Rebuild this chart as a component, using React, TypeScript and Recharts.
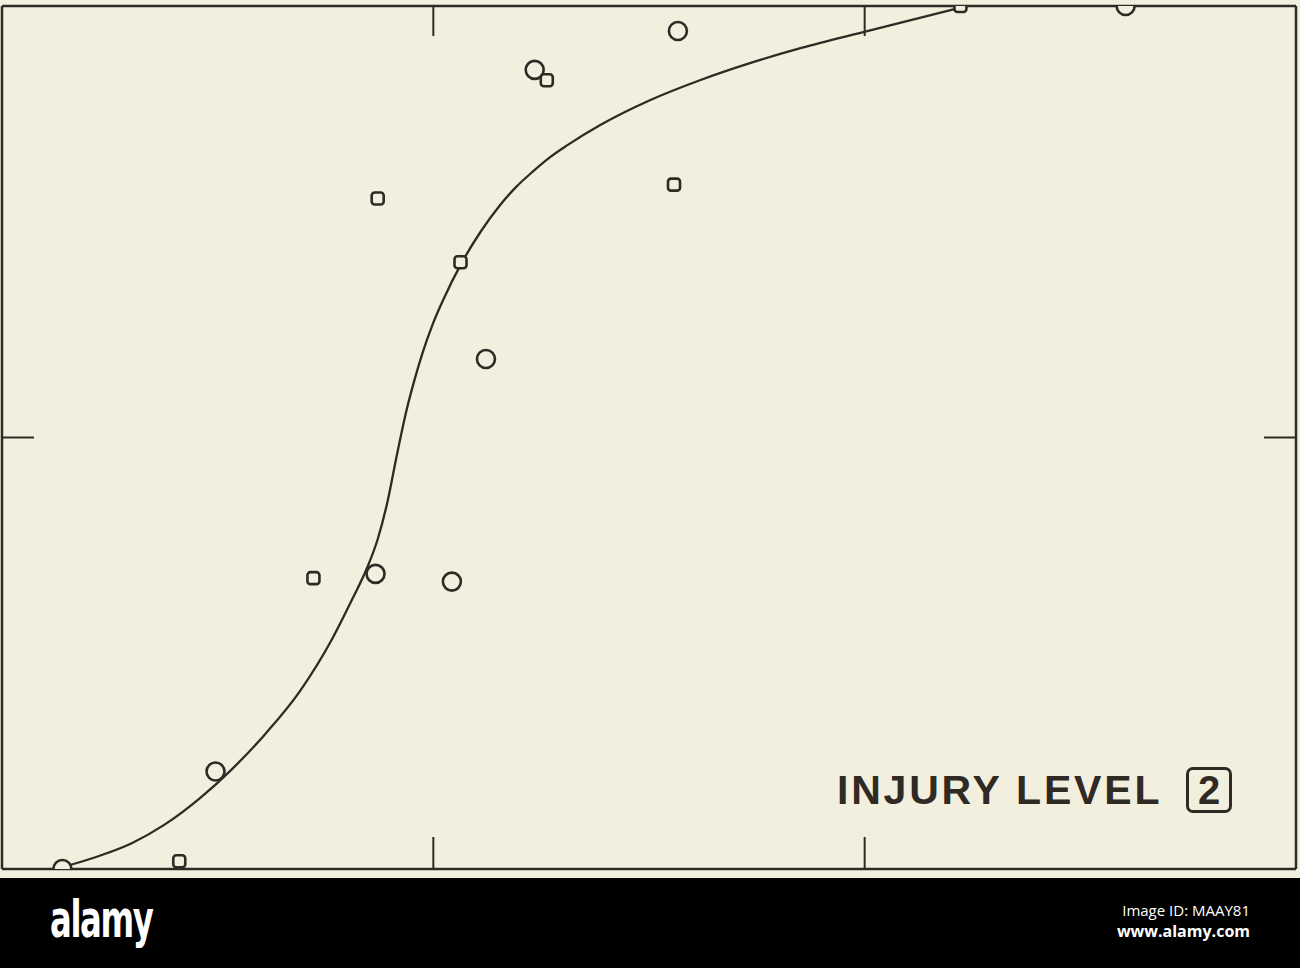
import React from 'react';
import { ComposedChart, Line, Scatter, XAxis, YAxis } from 'recharts';

// Observed points: circles
const circlePoints = [
  { x: 0.14, y: 0 },
  { x: 0.495, y: 11.3 },
  { x: 0.866, y: 34.2 },
  { x: 1.043, y: 33.3 },
  { x: 1.122, y: 59.1 },
  { x: 1.235, y: 92.6 },
  { x: 1.567, y: 97.1 },
  { x: 2.605, y: 100 },
];

// Observed points: squares
const squarePoints = [
  { x: 0.411, y: 0.9 },
  { x: 0.722, y: 33.7 },
  { x: 0.871, y: 77.7 },
  { x: 1.063, y: 70.3 },
  { x: 1.263, y: 91.4 },
  { x: 1.558, y: 79.3 },
  { x: 2.222, y: 100 },
];

// Fitted curve
const curvePoints = [
  { x: 0.139, y: 0.2 },
  { x: 0.225, y: 1.51 },
  { x: 0.302, y: 3.02 },
  { x: 0.376, y: 5.11 },
  { x: 0.457, y: 8.13 },
  { x: 0.534, y: 11.61 },
  { x: 0.611, y: 15.68 },
  { x: 0.69, y: 20.56 },
  { x: 0.766, y: 26.71 },
  { x: 0.813, y: 31.36 },
  { x: 0.845, y: 34.73 },
  { x: 0.871, y: 38.21 },
  { x: 0.894, y: 42.62 },
  { x: 0.915, y: 47.85 },
  { x: 0.938, y: 53.19 },
  { x: 0.957, y: 56.79 },
  { x: 0.975, y: 59.81 },
  { x: 0.998, y: 63.06 },
  { x: 1.022, y: 65.85 },
  { x: 1.066, y: 70.26 },
  { x: 1.11, y: 73.87 },
  { x: 1.154, y: 76.89 },
  { x: 1.191, y: 78.98 },
  { x: 1.231, y: 80.83 },
  { x: 1.27, y: 82.46 },
  { x: 1.31, y: 83.85 },
  { x: 1.386, y: 86.18 },
  { x: 1.502, y: 89.08 },
  { x: 1.618, y: 91.4 },
  { x: 1.734, y: 93.38 },
  { x: 1.851, y: 95.12 },
  { x: 2.006, y: 97.09 },
  { x: 2.222, y: 99.8 },
];

const xTicks = [1, 2];
const yTicks = [50];
const xDomain = [0, 3];
const yDomain = [0, 100];

const labelText = 'INJURY LEVEL';
const levelText = '2';

const INK = '#2f2a24';
const PAPER = '#f3efdf';

const CircleMark = (props: any) => {
  const { cx, cy } = props;
  if (cx == null || cy == null) return null;
  return <circle cx={cx} cy={cy} r={9} fill={PAPER} stroke={INK} strokeWidth={2.6} />;
};

const SquareMark = (props: any) => {
  const { cx, cy } = props;
  if (cx == null || cy == null) return null;
  return (
    <rect x={cx - 6} y={cy - 6} width={12} height={12} rx={3} ry={3} fill={PAPER} stroke={INK} strokeWidth={2.6} />
  );
};

const NoTickLabel = () => <g />;

const axisLine = { stroke: INK, strokeWidth: 2.5 };
const tickLine = { stroke: INK, strokeWidth: 2 };

export default function App() {
  return (
    <div style={{ position: 'absolute', left: 0, top: 0, width: 1300, height: 968, background: '#000', overflow: 'hidden' }}>
      <div style={{ position: 'absolute', left: 0, top: 0, width: 1300, height: 878, background: PAPER }}>
        <ComposedChart width={1300} height={878} margin={{ top: 6, right: 4, bottom: 9, left: 2 }}>
          <XAxis xAxisId="b" type="number" dataKey="x" domain={xDomain} ticks={xTicks} orientation="bottom" mirror height={1} tick={NoTickLabel} tickSize={32} axisLine={axisLine} tickLine={tickLine} allowDataOverflow />
          <XAxis xAxisId="t" type="number" dataKey="x" domain={xDomain} ticks={xTicks} orientation="top" mirror height={1} tick={NoTickLabel} tickSize={30} axisLine={axisLine} tickLine={tickLine} allowDataOverflow />
          <YAxis yAxisId="l" type="number" dataKey="y" domain={yDomain} ticks={yTicks} orientation="left" mirror width={1} tick={NoTickLabel} tickSize={32} axisLine={axisLine} tickLine={tickLine} allowDataOverflow />
          <YAxis yAxisId="r" type="number" dataKey="y" domain={yDomain} ticks={yTicks} orientation="right" mirror width={1} tick={NoTickLabel} tickSize={32} axisLine={axisLine} tickLine={tickLine} allowDataOverflow />
          <Line xAxisId="b" yAxisId="l" data={curvePoints} dataKey="y" type="monotone" stroke={INK} strokeWidth={2.3} dot={false} activeDot={false} isAnimationActive={false} />
          <Scatter xAxisId="b" yAxisId="l" data={circlePoints} dataKey="y" shape={CircleMark} isAnimationActive={false} />
          <Scatter xAxisId="b" yAxisId="l" data={squarePoints} dataKey="y" shape={SquareMark} isAnimationActive={false} />
        </ComposedChart>
        <div style={{ position: 'absolute', left: 837, top: 766, height: 48, display: 'flex', alignItems: 'center', fontFamily: '"Liberation Sans", Arial, sans-serif', fontWeight: 'bold', color: INK }}>
          <span style={{ fontSize: 41, letterSpacing: 2.8 }}>{labelText}</span>
          <span style={{ marginLeft: 24, width: 40, height: 40, border: `3px solid ${INK}`, borderRadius: 7, display: 'flex', alignItems: 'center', justifyContent: 'center', fontSize: 40, lineHeight: 1 }}>{levelText}</span>
        </div>
      </div>
      <div style={{ position: 'absolute', left: 50, top: 889, color: '#fff', fontFamily: '"Liberation Sans Narrow", "DejaVu Sans Condensed", "Liberation Sans", sans-serif', fontWeight: 'bold', fontSize: 52, letterSpacing: -2, transform: 'scaleX(0.69)', transformOrigin: 'left top' }}>alamy</div>
      <div style={{ position: 'absolute', right: 50, top: 900, color: '#fff', fontFamily: '"Open Sans", sans-serif', textAlign: 'right' }}>
        <div style={{ fontSize: 15, lineHeight: '20px' }}>Image ID: MAAY81</div>
        <div style={{ fontSize: 16, fontWeight: 'bold', lineHeight: '22px' }}>www.alamy.com</div>
      </div>
    </div>
  );
}
